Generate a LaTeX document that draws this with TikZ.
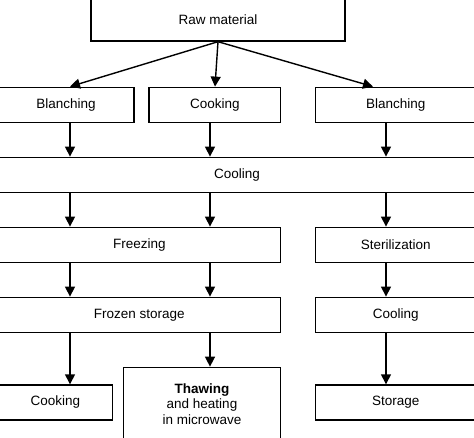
\documentclass[tikz,border=0pt]{standalone}
\usepackage{fontspec}
\setmainfont{Liberation Sans}
\usetikzlibrary{arrows.meta}
\begin{document}
\begin{tikzpicture}[x=1pt,y=-1pt,
  box/.style={draw=black,line width=1.4pt,minimum height=35pt,inner sep=0pt,
    font=\fontsize{13.5}{15.5}\selectfont,text=black},
  arr/.style={line width=1.4pt,-{Triangle[length=10pt,width=10pt]}}]
\useasboundingbox (0,0) rectangle (474,438);
\clip (0,0) rectangle (474,438);
\fill[white] (0,0) rectangle (474,438);
% boxes
\node[box,minimum width=254pt,minimum height=42pt] (raw) at (218,20) {Raw material};
\node[box,minimum width=136.3pt] (blL) at (66,104.8) {Blanching};
\node[box,minimum width=131.7pt] (cookA) at (214.8,104.8) {Cooking};
\node[box,minimum width=160.3pt] (blR) at (395.8,104.8) {Blanching};
\node[box,minimum width=478pt] (cool) at (237,174.8) {Cooling};
\node[box,minimum width=282.7pt] (freez) at (139.3,244.8) {Freezing};
\node[box,minimum width=160.3pt] (steril) at (395.8,244.8) {Sterilization};
\node[box,minimum width=282.7pt] (frozen) at (139.3,314.8) {Frozen storage};
\node[box,minimum width=160.3pt] (coolR) at (395.8,314.8) {Cooling};
\node[box,minimum width=114.7pt] (cookB) at (55.3,402.5) {Cooking};
\node[box,minimum width=157.4pt,minimum height=72.7pt,align=center] (thaw) at (202,403.7)
  {\textbf{Thawing}\\and heating\\in microwave};
\node[box,minimum width=160.3pt] (stor) at (395.8,402.5) {Storage};
% column coordinates
\coordinate (c1) at (70,0);
\coordinate (c2) at (210,0);
\coordinate (c3) at (386,0);
\coordinate (ta) at (70,0);
\coordinate (tb) at (215,0);
\coordinate (tc) at (373,0);
% arrows
\draw[arr] (raw.south) -- (blL.north -| ta);
\draw[arr] (raw.south) -- (cookA.north -| tb);
\draw[arr] (raw.south) -- (blR.north -| tc);
\draw[arr] (blL.south -| c1) -- (cool.north -| c1);
\draw[arr] (cookA.south -| c2) -- (cool.north -| c2);
\draw[arr] (blR.south -| c3) -- (cool.north -| c3);
\draw[arr] (cool.south -| c1) -- (freez.north -| c1);
\draw[arr] (cool.south -| c2) -- (freez.north -| c2);
\draw[arr] (cool.south -| c3) -- (steril.north -| c3);
\draw[arr] (freez.south -| c1) -- (frozen.north -| c1);
\draw[arr] (freez.south -| c2) -- (frozen.north -| c2);
\draw[arr] (steril.south -| c3) -- (coolR.north -| c3);
\draw[arr] (frozen.south -| c1) -- (cookB.north -| c1);
\draw[arr] (frozen.south -| c2) -- (thaw.north -| c2);
\draw[arr] (coolR.south -| c3) -- (stor.north -| c3);
\end{tikzpicture}
\end{document}
